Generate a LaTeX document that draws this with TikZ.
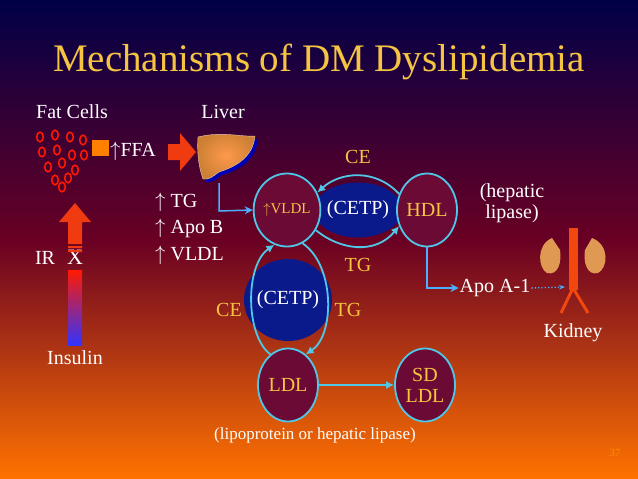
\documentclass[tikz,border=0pt]{standalone}
\usepackage{fontspec}
\setmainfont{Liberation Serif}
\usetikzlibrary{shapes.geometric,arrows.meta,positioning}
\definecolor{gold}{HTML}{F5C542}
\definecolor{wine}{HTML}{6A0A35}
\definecolor{cetpblue}{HTML}{0A1A8A}
\definecolor{rim}{HTML}{4FC8E8}
\definecolor{arrowred}{HTML}{F03A10}
\tikzset{
  lipo/.style={ellipse, fill=wine, draw=rim, line width=1.8pt, minimum width=60pt, minimum height=73pt, inner sep=0pt, text=gold, font=\fontsize{20}{21}\selectfont, align=center},
  cetp/.style={ellipse, fill=cetpblue, minimum width=70pt, minimum height=55pt, inner sep=0pt, text=white, font=\fontsize{20}{21}\selectfont},
  wlabel/.style={text=white, font=\fontsize{20}{21}\selectfont, inner sep=1pt},
  ylabel/.style={text=gold, font=\fontsize{20}{21}\selectfont, inner sep=1pt},
  swap/.style={-{Latex[length=8pt,width=8pt]}, rim, line width=1.8pt},
  feed/.style={-{Stealth[length=8pt,width=8pt]}, blue!45!cyan!70!white, line width=1.5pt}
}
\begin{document}
\begin{tikzpicture}[x=1pt,y=-1pt]
\useasboundingbox (0,0) rectangle (638,479);
\shade[top color=black!60!blue!70!black, bottom color=orange!90!red, middle color=purple!55!black] (0,0) rectangle (638,479);

\node[text=gold, font=\fontsize{39}{40}\selectfont] (title) at (319,62) {Mechanisms of DM Dyslipidemia};
\node[wlabel] (fat) at (72,112) {Fat Cells};
\node[wlabel] (liverlbl) at (223,112) {Liver};

% fat cells
\foreach \px/\py in {40/137,55/135,70/137,83/140,42/152,57/150,72/155,84/155,48/167,62/163,75/170,55/180,68/178,62/187}
  \draw[red!80!orange, line width=1.6pt] (\px,\py) ellipse (3.3pt and 4.8pt);

\fill[orange] (92,140) rectangle (109,156);
\node[wlabel, anchor=west] (ffa) at (109,151) {$\uparrow$FFA};
\fill[arrowred] (168,144) -- (180,144) -- (180,133) -- (196,152) -- (180,171) -- (180,160) -- (168,160) -- cycle;

% liver
\fill[blue!70!black] (202,140) .. controls (225,133) and (245,140) .. (258,139) .. controls (256,160) and (240,170) .. (222,175) .. controls (215,180) and (212,183) .. (206,182) -- cycle;
\shade[inner color=orange!60!pink, outer color=brown!80!orange, draw=brown!40!white] (198,137) .. controls (222,131) and (240,137) .. (255,136) .. controls (253,156) and (238,166) .. (219,172) .. controls (212,177) and (209,180) .. (203,179) .. controls (198,165) and (197,150) .. (198,137) -- cycle;

\node[wlabel, anchor=west] (tg) at (154,202) {$\uparrow$ TG};
\node[wlabel, anchor=west] (apob) at (154,228) {$\uparrow$ Apo B};
\node[wlabel, anchor=west] (vldlup) at (154,255) {$\uparrow$ VLDL};

% lipoproteins
\node[cetp] (cetp1) at (358,210) {(CETP)};
\node[cetp, minimum width=60pt, minimum height=82pt] (cetp2) at (288,300) {(CETP)};
\node[lipo] (vldl) at (287,210) {\fontsize{15}{16}\selectfont$\uparrow$VLDL};
\node[lipo] (hdl) at (427,210) {HDL};
\node[lipo] (ldl) at (288,385) {LDL};
\node[lipo] (sdldl) at (425,385) {SD\\LDL};

\coordinate (bend1) at (219,211);
\draw[feed] (219,183) -- (bend1) -- (vldl.west);

\draw[swap] (hdl.150) .. controls (375,168) and (340,172) .. (vldl.30);
\draw[swap] (vldl.-35) .. controls (340,250) and (375,255) .. (hdl.-150);
\draw[swap] (ldl.120) .. controls (245,335) and (245,265) .. (vldl.-110);
\draw[swap] (vldl.-65) .. controls (335,265) and (335,335) .. (ldl.60);
\draw[-{Latex[length=8pt,width=8pt]}, rim, line width=2.2pt] (ldl.east) -- (sdldl.west);

\node[ylabel] (ce1) at (358,157) {CE};
\node[ylabel] (tg1) at (358,265) {TG};
\node[ylabel] (ce2) at (229,310) {CE};
\node[ylabel] (tg2) at (348,310) {TG};

\node[wlabel, align=center] (hl) at (512,203) {(hepatic\\lipase)};
\node[wlabel] (apoa) at (495,288) {Apo A-1};
\coordinate (bend2) at (427,288);
\draw[feed] (hdl.south) -- (bend2) -- (apoa.west);

% kidney
\fill[brown!60!orange!80!white] (552,238) .. controls (536,245) and (538,268) .. (547,273) .. controls (558,276) and (562,262) .. (560,250) -- cycle;
\fill[brown!60!orange!80!white] (592,238) .. controls (610,245) and (608,268) .. (598,273) .. controls (587,276) and (583,262) .. (585,250) -- cycle;
\fill[arrowred!80!orange] (569,228) rectangle (578,290);
\draw[arrowred!80!orange, line width=3pt] (573,288) -- (561,313) (573,288) -- (588,313);
\coordinate (kid) at (565,287);
\draw[-{Stealth[length=6pt]}, blue!45!cyan!70!white, line width=1.3pt, dotted] (apoa.east) -- (kid);
\node[wlabel] (kidney) at (573,333) {Kidney};

\node[wlabel, font=\fontsize{17}{18}\selectfont] (lip) at (315,435) {(lipoprotein or hepatic lipase)};

% insulin
\node[wlabel] (ir) at (45,258) {IR};
\node[wlabel, font=\fontsize{22}{23}\selectfont] (x) at (75,257) {X};
\fill[arrowred] (68,244) -- (68,222) -- (59,222) -- (75,203) -- (91,222) -- (82,222) -- (82,244) -- cycle;
\fill[arrowred] (68,246) rectangle (82,248) (68,250) rectangle (82,252);
\shade[top color=red!80!orange, bottom color=blue!80] (68,270) rectangle (82,345);
\node[wlabel] (ins) at (75,358) {Insulin};

\node[text=orange!90!yellow, font=\fontsize{11}{12}\selectfont] (pg) at (615,453) {37};
\end{tikzpicture}
\end{document}
